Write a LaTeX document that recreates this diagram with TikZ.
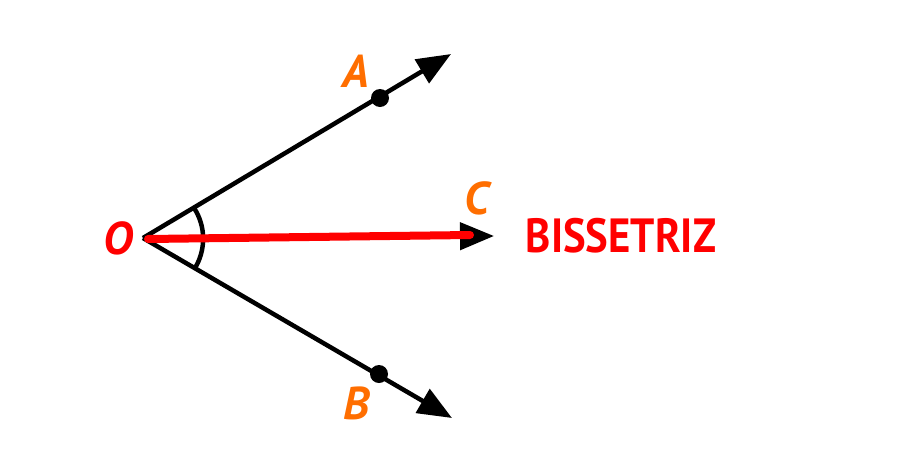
\documentclass[tikz,border=0pt]{standalone}
\usepackage{fontspec}
\setmainfont{PT Sans}
\usetikzlibrary{arrows.meta}
\definecolor{ptorange}{RGB}{255,110,0}
\definecolor{bisred}{RGB}{255,0,0}
\begin{document}
\begin{tikzpicture}[x=1pt,y=-1pt,
	ray/.style={line width=4.5pt,-{Triangle[length=34pt,width=27pt]}},
	pointlabel/.style={font=\fontsize{46}{46}\selectfont\itshape\bfseries,text=ptorange,inner sep=0pt},
	ptdot/.style={circle,fill=black,inner sep=0pt,minimum size=18pt}]
\useasboundingbox (0,0) rectangle (898,472);
\coordinate (O) at (143,238);
\coordinate (endA) at (451,54);
\coordinate (endB) at (452,418);
\coordinate (endC) at (494,236);
\coordinate (endR) at (470,235);
\coordinate (arcA) at (194,208);
\coordinate (arcB) at (195,268);
\draw[ray] (O) -- (endA);
\draw[ray] (O) -- (endB);
\draw[ray] (O) -- (endC);
\draw[line width=4.5pt] (arcA) .. controls (206,226) and (206,250) .. (arcB);
\draw[bisred,line width=8pt,line cap=round] (148,239) -- (endR);
\node[ptdot] (dotA) at (380,98) {};
\node[ptdot] (dotB) at (379,374) {};
\node[pointlabel] (labA) at (356,71) {A};
\node[pointlabel] (labB) at (357,403) {B};
\node[pointlabel] (labC) at (477,198) {C};
\node[pointlabel,text=bisred] (labO) at (118,238) {O};
\node[font=\fontsize{48}{48}\selectfont\bfseries,text=bisred,inner sep=0pt] (bis) at (621,236) {\scalebox{.89}[1]{BISSETRIZ}};
\end{tikzpicture}
\end{document}
